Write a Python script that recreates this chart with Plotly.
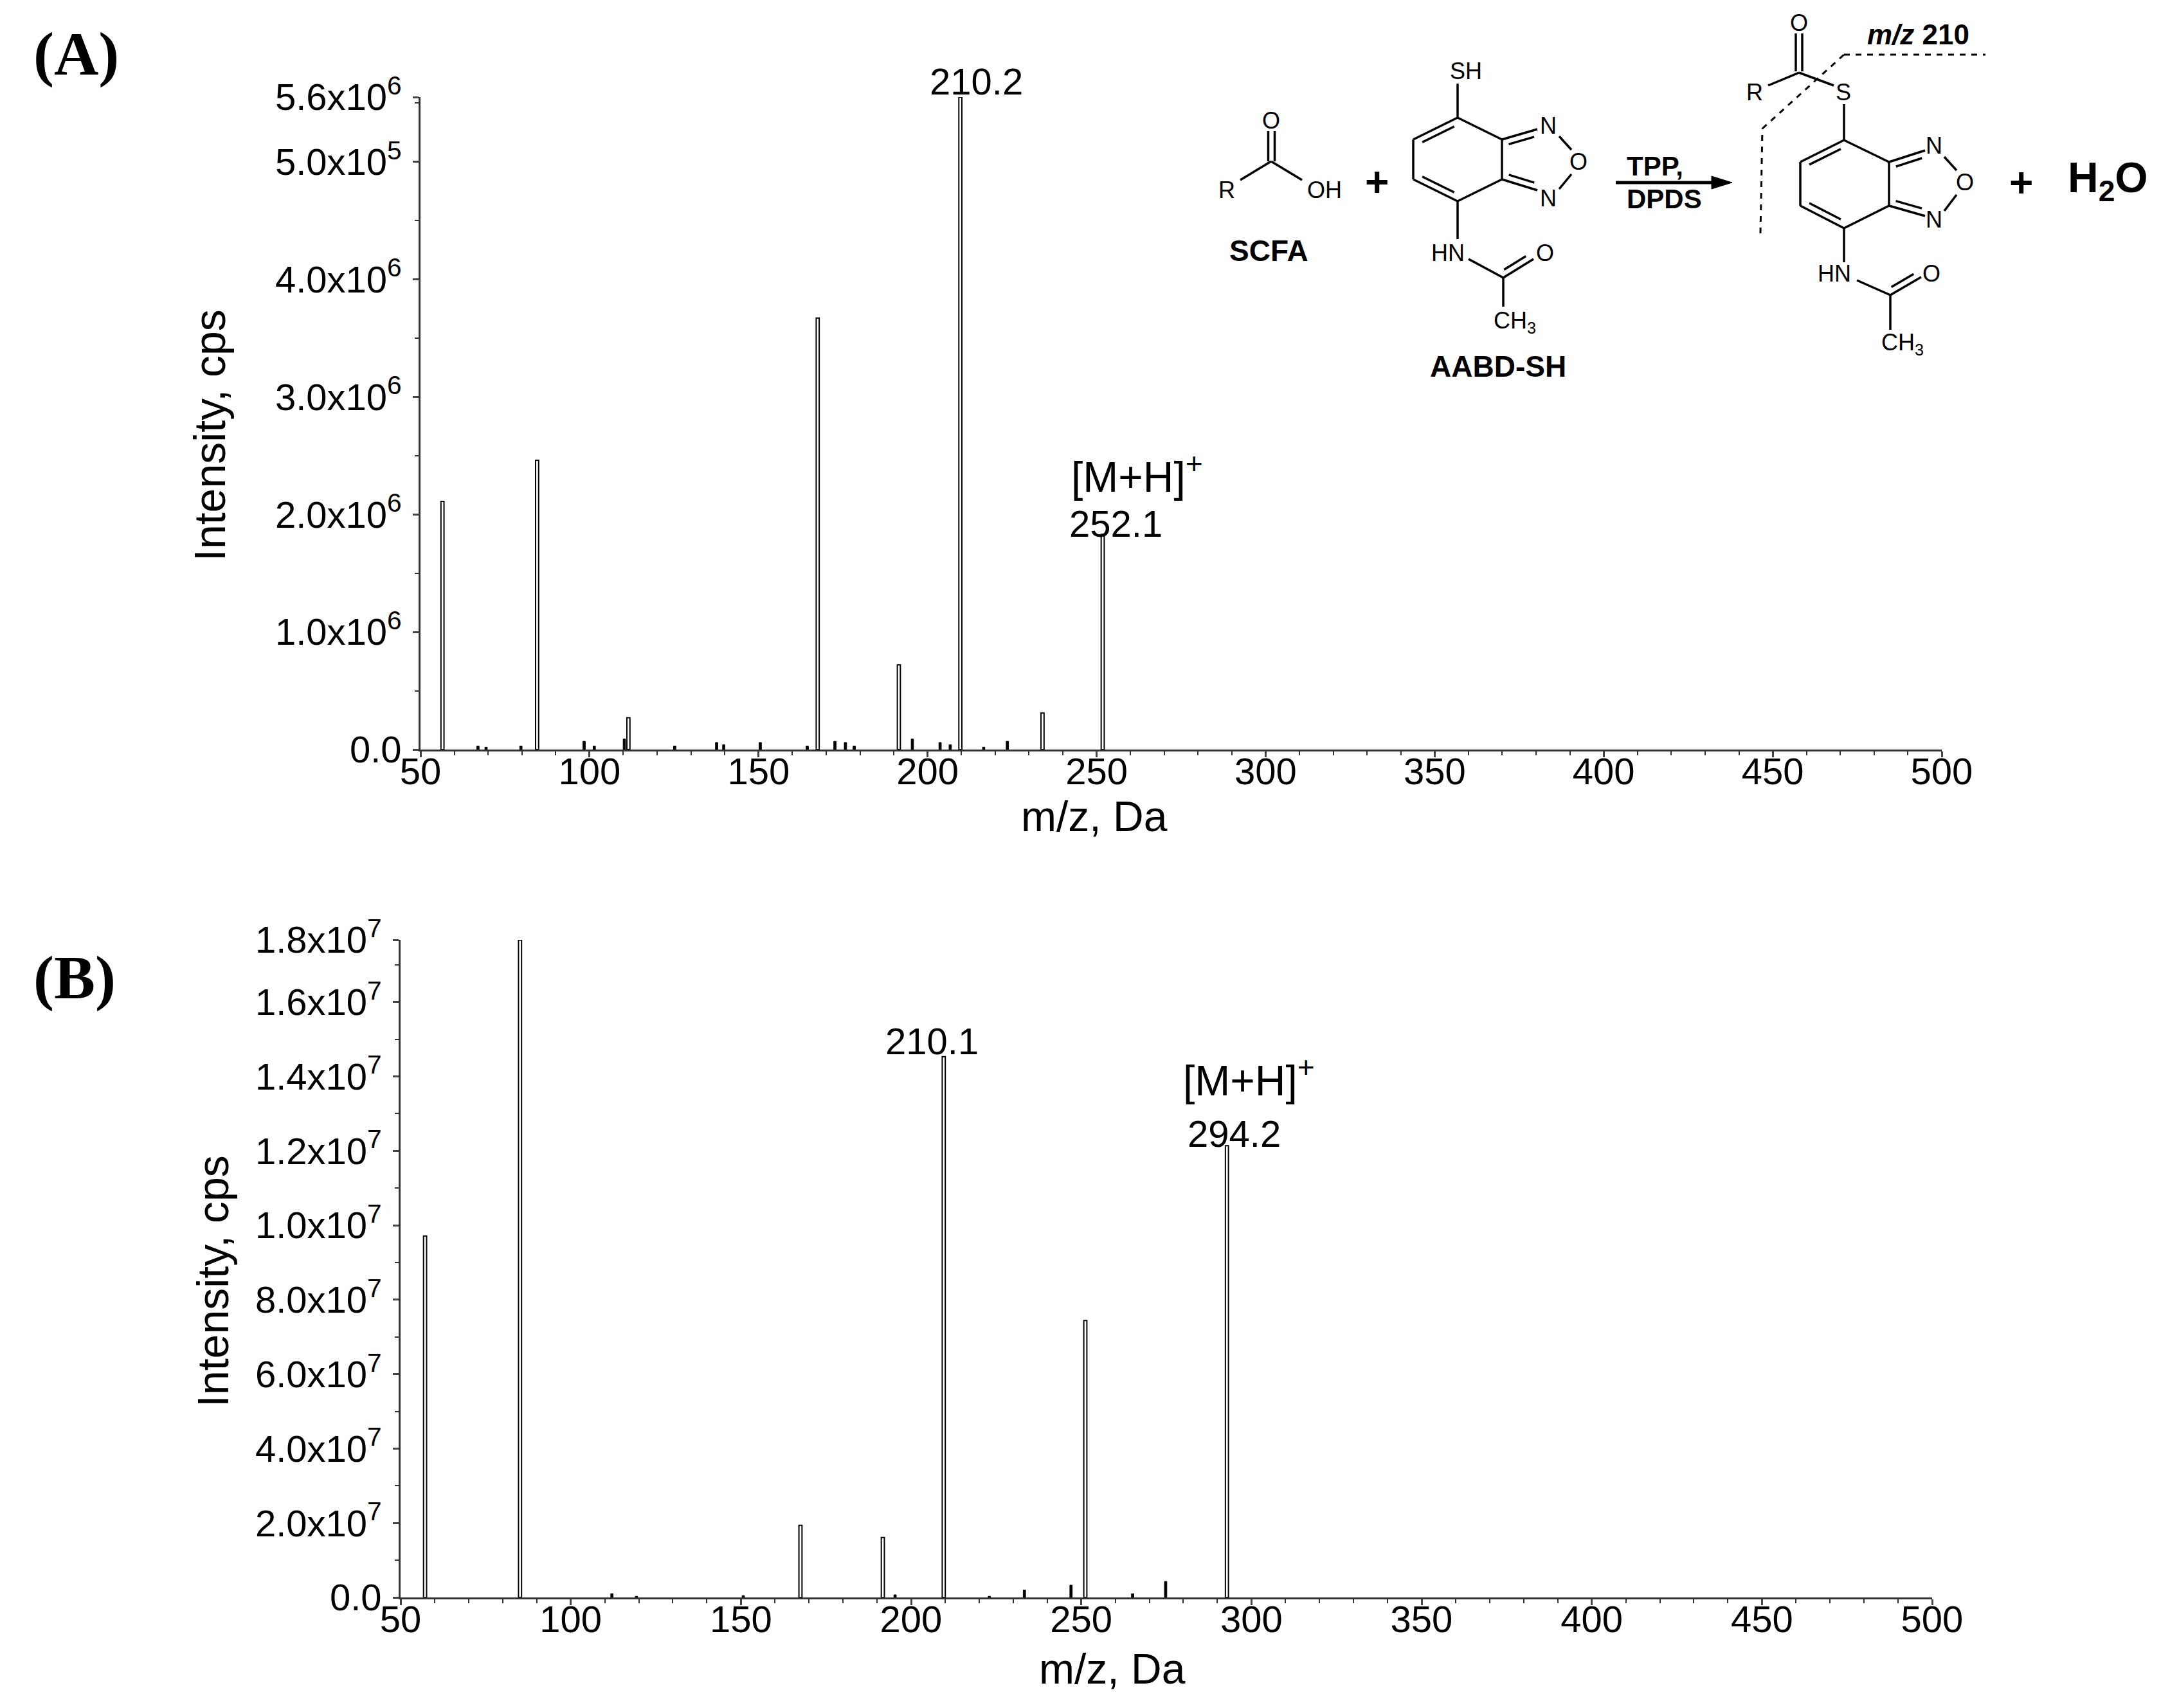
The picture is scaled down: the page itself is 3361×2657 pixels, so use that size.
import plotly.graph_objects as go

W, H = 3361, 2657

# panel A spectrum (m/z, intensity in cps)
mz_a = [56.5, 84.5, 111.5, 167.5, 191.5, 209.7, 234.0, 251.8]
int_a = [2.11e6, 2.46e6, 0.27e6, 3.67e6, 0.72e6, 5.55e6, 0.31e6, 1.83e6]
mz_a_noise = [67.0, 69.4, 79.7, 98.4, 101.4, 110.3, 125.2, 137.6, 139.7, 150.5,
              164.4, 172.6, 175.7, 178.3, 195.5, 203.7, 206.7, 216.6, 223.6]
int_a_noise = [0.03e6, 0.02e6, 0.03e6, 0.07e6, 0.03e6, 0.09e6, 0.03e6, 0.06e6, 0.04e6, 0.06e6,
               0.03e6, 0.07e6, 0.06e6, 0.03e6, 0.09e6, 0.06e6, 0.04e6, 0.02e6, 0.07e6]

# panel B spectrum
mz_b = [57.2, 85.1, 167.5, 191.7, 209.6, 251.2, 292.8]
int_b = [9.71e6, 17.66e6, 1.94e6, 1.61e6, 14.53e6, 7.44e6, 12.14e6]
mz_b_noise = [112.1, 119.3, 150.7, 195.3, 223.0, 233.3, 247.0, 265.1, 274.8]
int_b_noise = [0.1e6, 0.03e6, 0.05e6, 0.07e6, 0.03e6, 0.2e6, 0.33e6, 0.1e6, 0.43e6]

x_ticks = [50, 100, 150, 200, 250, 300, 350, 400, 450, 500]
y_tickvals_a = [0, 1e6, 2e6, 3e6, 4e6, 5e6, 5.55e6]
y_ticktext_a = ["0.0", "1.0x10<sup>6</sup>", "2.0x10<sup>6</sup>", "3.0x10<sup>6</sup>",
                "4.0x10<sup>6</sup>", "5.0x10<sup>5</sup>", "5.6x10<sup>6</sup>"]
y_tickvals_b = [0, 2e6, 4e6, 6e6, 8e6, 1e7, 1.2e7, 1.4e7, 1.6e7, 1.767e7]
y_ticktext_b = ["0.0", "2.0x10<sup>7</sup>", "4.0x10<sup>7</sup>", "6.0x10<sup>7</sup>",
                "8.0x10<sup>7</sup>", "1.0x10<sup>7</sup>", "1.2x10<sup>7</sup>",
                "1.4x10<sup>7</sup>", "1.6x10<sup>7</sup>", "1.8x10<sup>7</sup>"]

SANS = "Liberation Sans, Arial, sans-serif"
SERIF = "Liberation Serif, Times New Roman, serif"


def px(x):
    return x / W


def py(y):
    return 1 - y / H


fig = go.Figure()
peak_style = dict(color="white", line=dict(color="black", width=2))
noise_style = dict(color="black", line=dict(color="black", width=1))
fig.add_trace(go.Bar(x=mz_a, y=int_a, width=0.9, marker=peak_style, xaxis="x", yaxis="y"))
fig.add_trace(go.Bar(x=mz_a_noise, y=int_a_noise, width=0.7, marker=noise_style, xaxis="x", yaxis="y"))
fig.add_trace(go.Bar(x=mz_b, y=int_b, width=0.9, marker=peak_style, xaxis="x2", yaxis="y2"))
fig.add_trace(go.Bar(x=mz_b_noise, y=int_b_noise, width=0.7, marker=noise_style, xaxis="x2", yaxis="y2"))

xcommon = dict(range=[50, 500], tickmode="array", tickvals=x_ticks, ticks="outside", ticklen=9,
               tickwidth=2.5, showline=True, linewidth=2.5, linecolor="#333", showgrid=False,
               zeroline=False, automargin=False, ticklabelstandoff=-27,
               tickfont=dict(size=58, color="black"),
               minor=dict(dtick=10, tick0=50, ticks="outside", ticklen=6, tickwidth=2, tickcolor="#333"))
ycommon = dict(tickmode="array", ticks="outside", ticklen=9, tickwidth=2.5, showline=True,
               linewidth=2.5, linecolor="#333", showgrid=False, zeroline=False, automargin=False,
               ticklabelstandoff=6, tickfont=dict(size=58, color="black"))

fig.update_layout(
    width=W, height=H, autosize=False, margin=dict(l=0, r=0, t=0, b=0, pad=0),
    paper_bgcolor="white", plot_bgcolor="white", showlegend=False, barmode="overlay",
    font=dict(family=SANS, color="black"),
    xaxis=dict(domain=[px(646), px(3012)], anchor="y", **xcommon),
    yaxis=dict(domain=[py(1158), py(143)], anchor="x", range=[0, 5.55e6],
               tickvals=y_tickvals_a, ticktext=y_ticktext_a,
               minor=dict(dtick=5e5, tick0=0, ticks="outside", ticklen=6, tickwidth=2, tickcolor="#333"),
               **ycommon),
    xaxis2=dict(domain=[px(615), px(2997)], anchor="y2", **xcommon),
    yaxis2=dict(domain=[py(2477), py(1454)], anchor="x2", range=[0, 1.767e7],
                tickvals=y_tickvals_b, ticktext=y_ticktext_b,
                minor=dict(dtick=1e6, tick0=0, ticks="outside", ticklen=6, tickwidth=2, tickcolor="#333"),
                **ycommon),
)

annotations = []


def label(x, y, text, size, bold=False, family=SANS, angle=0, xanchor="center"):
    if bold:
        text = "<b>" + text + "</b>"
    annotations.append(dict(x=px(x), y=py(y), xref="paper", yref="paper", text=text,
                            showarrow=False, xanchor=xanchor, yanchor="middle", textangle=angle,
                            font=dict(family=family, size=size, color="black")))


# panel letters and axis titles
label(110, 76, "(A)", 96, bold=True, family=SERIF)
label(108, 1512, "(B)", 96, bold=True, family=SERIF)
label(318, 669, "Intensity, cps", 68, angle=-90)
label(323, 1985, "Intensity, cps", 68, angle=-90)
label(1694, 1262, "m/z, Da", 66)
label(1722, 2588, "m/z, Da", 66)

# peak labels
label(1510, 118, "210.2", 58)
label(1760, 729, "[M+H]<sup>+</sup>", 66)
label(1727, 806, "252.1", 58)
label(1441, 1611, "210.1", 58)
label(1934, 1668, "[M+H]<sup>+</sup>", 66)
label(1911, 1755, "294.2", 58)

# reaction scheme
shapes = []
BW = 3.5


def bond(x0, y0, x1, y1, width=BW, dash="solid"):
    shapes.append(dict(type="line", xref="paper", yref="paper", x0=px(x0), y0=py(y0),
                       x1=px(x1), y1=py(y1), line=dict(color="black", width=width, dash=dash)))


def double(x0, y0, x1, y1, tx, ty, off=10, trim=0.14):
    bond(x0, y0, x1, y1)
    dx, dy = x1 - x0, y1 - y0
    length = (dx * dx + dy * dy) ** 0.5
    nx, ny = -dy / length, dx / length
    mx, my = (x0 + x1) / 2, (y0 + y1) / 2
    if (tx - mx) * nx + (ty - my) * ny < 0:
        nx, ny = -nx, -ny
    bond(x0 + dx * trim + nx * off, y0 + dy * trim + ny * off,
         x1 - dx * trim + nx * off, y1 - dy * trim + ny * off)


atom = 36

# SCFA
label(1969, 179, "O", atom)
bond(1964.5, 196, 1964.5, 243)
bond(1974.5, 196, 1974.5, 243)
bond(1969, 243, 1921, 272)
bond(1969, 243, 2017, 272)
label(1900, 287, "R", atom)
label(2052, 287, "OH", atom)
label(2133, 275, "+", 64, bold=True)
label(1965, 382, "SCFA", 46, bold=True)

# AABD-SH
T1, UL1, LL1, B1, LR1, UR1 = (2259, 175), (2190, 209), (2190, 271), (2259, 305), (2328, 271), (2328, 209)
c1 = (2259, 240)
double(*UL1, *T1, *c1)
bond(*UL1, *LL1)
double(*LL1, *B1, *c1)
bond(*B1, *LR1)
bond(*LR1, *UR1)
bond(*UR1, *T1)
double(*UR1, 2383, 193, 2387, 240)
double(*LR1, 2383, 288, 2387, 240)
bond(2417, 204, 2436, 225)
bond(2436, 263, 2417, 286)
label(2400, 187, "N", atom)
label(2447, 244, "O", atom)
label(2400, 300, "N", atom)
bond(2259, 175, 2259, 122)
label(2272, 103, "SH", atom)
bond(2259, 305, 2259, 364)
label(2244, 386, "HN", atom)
bond(2276, 395, 2330, 424)
double(2330, 424, 2377, 395, 2377, 382)
label(2395, 385, "O", atom)
bond(2330, 424, 2330, 469)
label(2313, 493, "CH<sub>3</sub>", atom, xanchor="left")
label(2322, 562, "AABD-SH", 46, bold=True)

# arrow
bond(2505, 276, 2662, 276, width=5)
shapes.append(dict(type="path", xref="paper", yref="paper",
                   path="M %f %f L %f %f L %f %f Z" % (px(2654), py(266), px(2686), py(276), px(2654), py(286)),
                   fillcolor="black", line=dict(color="black", width=1)))
label(2566, 250, "TPP,", 42, bold=True)
label(2580, 301, "DPDS", 42, bold=True)

# product
label(2790, 28, "O", atom)
bond(2785, 44, 2785, 103)
bond(2795, 44, 2795, 103)
bond(2790, 105, 2742, 125)
bond(2790, 105, 2844, 125)
label(2721, 136, "R", atom)
label(2859, 136, "S", atom)
bond(2860, 154, 2860, 210)
T2, UL2, LL2, B2, LR2, UR2 = (2860, 210), (2792, 244), (2792, 312), (2860, 347), (2930, 312), (2930, 244)
c2 = (2861, 278)
double(*UL2, *T2, *c2)
bond(*UL2, *LL2)
double(*LL2, *B2, *c2)
bond(*B2, *LR2)
bond(*LR2, *UR2)
bond(*UR2, *T2)
double(*UR2, 2986, 226, 2992, 277)
double(*LR2, 2986, 328, 2992, 277)
bond(3016, 236, 3035, 257)
bond(3035, 295, 3016, 320)
label(3000, 218, "N", atom)
label(3048, 276, "O", atom)
label(3000, 333, "N", atom)
bond(2860, 347, 2860, 400)
label(2845, 418, "HN", atom)
bond(2880, 428, 2932, 451)
double(2932, 451, 2980, 423, 2980, 408)
label(2996, 418, "O", atom)
bond(2932, 451, 2932, 505)
label(2916, 527, "CH<sub>3</sub>", atom, xanchor="left")

# fragmentation cut
bond(2730, 355, 2733, 192, width=3, dash="dash")
bond(2733, 192, 2860, 77, width=3, dash="dash")
bond(2860, 77, 3080, 77, width=3, dash="dash")
label(2975, 45, "<i>m/z</i> 210", 44, bold=True)

label(3135, 276, "+", 64, bold=True)
label(3270, 273, "H<sub>2</sub>O", 66, bold=True)

fig.update_layout(annotations=annotations, shapes=shapes)
fig.write_html("out.html")
